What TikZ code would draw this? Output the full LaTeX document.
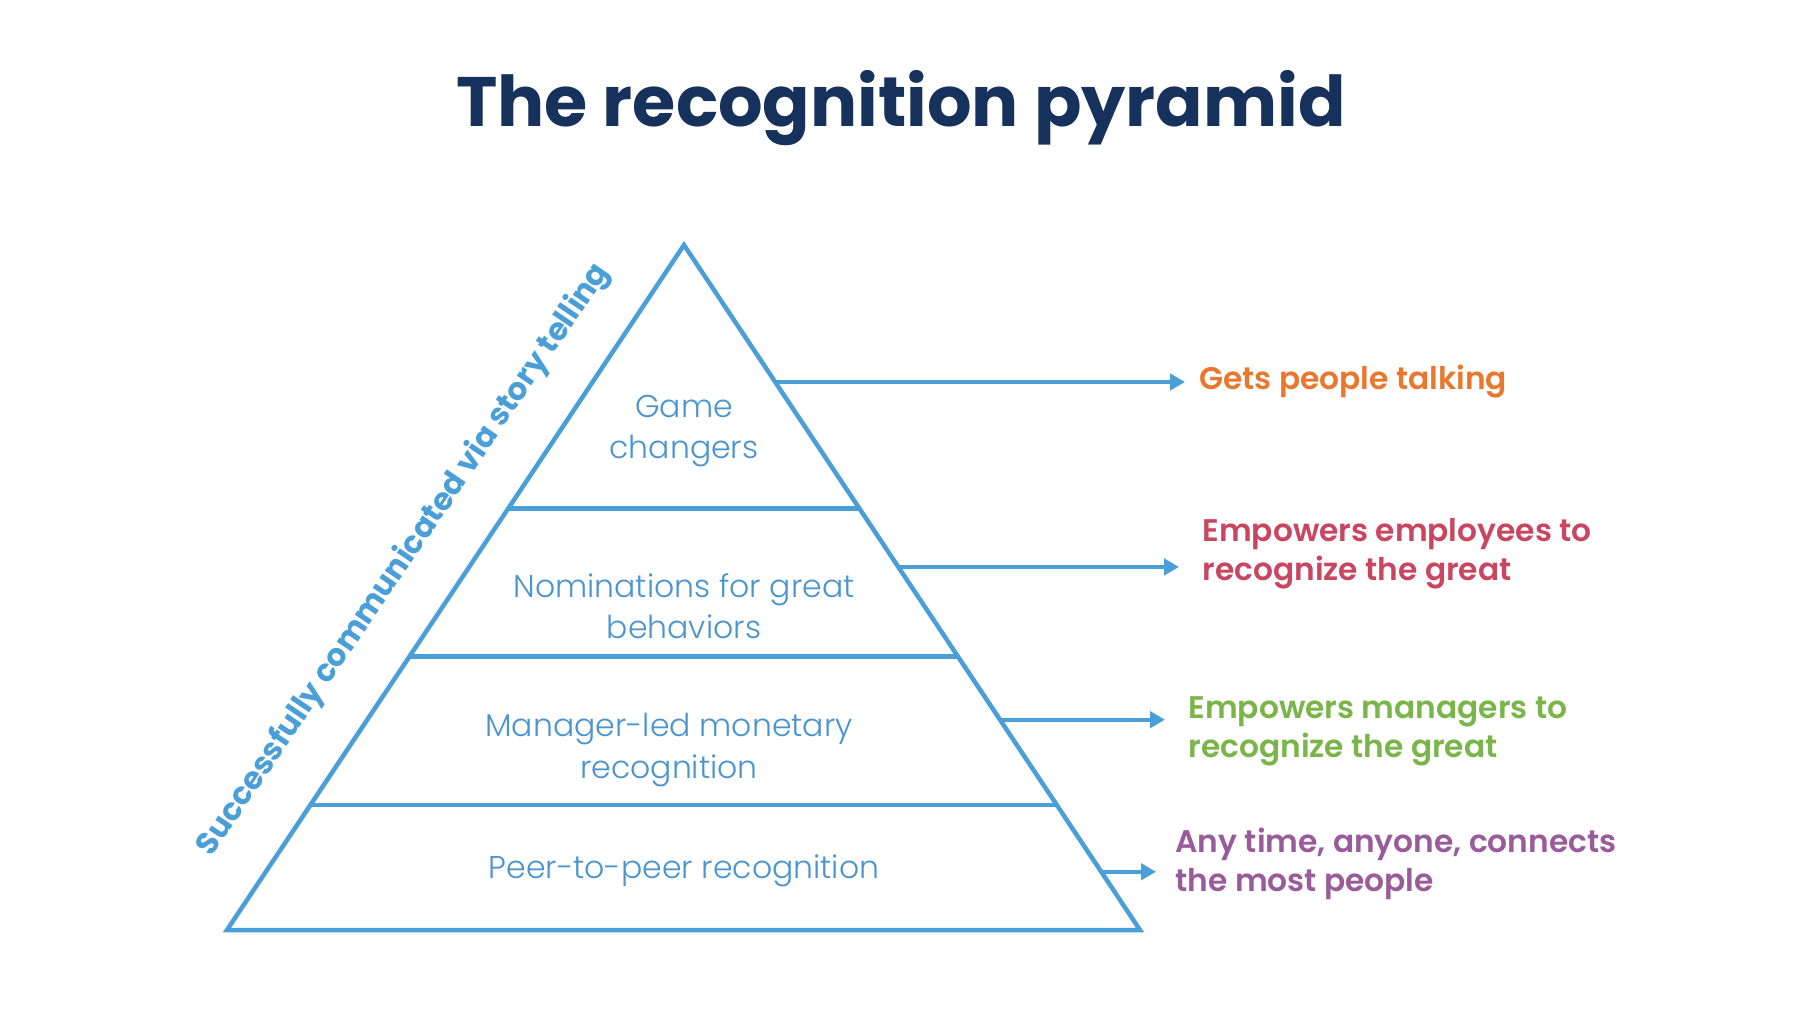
\documentclass[tikz,border=0pt]{standalone}
\usepackage{fontspec}
\setmainfont{Poppins}
\newfontfamily\lightf{Poppins Light}
\newfontfamily\semif{Poppins SemiBold}
\newfontfamily\boldf{Poppins Bold}
\usetikzlibrary{arrows.meta,calc}
\definecolor{navy}{HTML}{16325C}
\definecolor{pblue}{HTML}{4A9FD9}
\definecolor{tblue}{HTML}{4A94CF}
\definecolor{lorange}{HTML}{E9782F}
\definecolor{lred}{HTML}{C94660}
\definecolor{lgreen}{HTML}{7AB54A}
\definecolor{lpurple}{HTML}{9A5B9B}
\tikzset{
  pline/.style={draw=pblue, line width=1.8pt, line join=miter},
  parrow/.style={draw=pblue, line width=1.6pt, -{Triangle[length=6pt,width=6.5pt]}},
  tier/.style={text=tblue, font=\lightf\fontsize{12.6}{16.5}\selectfont, align=center, inner sep=0pt},
  side/.style={font=\semif\fontsize{12.5}{15.6}\selectfont, align=left, anchor=west, inner sep=0pt},
}
\begin{document}
\begin{tikzpicture}[x=0.4pt,y=-0.4pt]
\useasboundingbox[fill=white] (0,0) rectangle (1800,1012);
\node[font=\boldf\fontsize{28}{34}\selectfont, text=navy, anchor=base] (title) at (901,127) {The recognition pyramid};
% pyramid
\coordinate (apex) at (684,245);
\coordinate (bl) at (227,930);
\coordinate (br) at (1140,930);
\draw[pline] (apex) -- (br) -- (bl) -- cycle;
\foreach \t/\n in {0.385/a,0.601/b,0.8175/c}{
  \coordinate (L\n) at ($(apex)!\t!(bl)$);
  \coordinate (R\n) at ($(apex)!\t!(br)$);
  \draw[pline] (L\n) -- (R\n);
}
% tier labels
\node[tier] (t1) at (684,431) {Game\\changers};
\node[tier] (t2) at (684,606) {Nominations for great\\behaviors};
\node[tier] (t3) at (669,750) {Manager-led monetary\\recognition};
\node[tier] (t4) at (684,871) {Peer-to-peer recognition};
% side text
\node[text=pblue, font=\boldf\fontsize{12.4}{15}\selectfont, rotate=55.8, inner sep=0pt] (story) at (404,560) {Successfully communicated via story telling};
% arrows
\coordinate (s1) at ($(apex)!0.2!(br)$);
\coordinate (s2) at ($(apex)!0.470!(br)$);
\coordinate (s3) at ($(apex)!0.693!(br)$);
\coordinate (s4) at ($(apex)!0.915!(br)$);
\coordinate (e1) at (1185,382);
\coordinate (e2) at (1179,567);
\coordinate (e3) at (1165,720);
\coordinate (e4) at (1156,872);
\draw[parrow] (s1) -- (e1 |- s1);
\draw[parrow] (s2) -- (e2 |- s2);
\draw[parrow] (s3) -- (e3 |- s3);
\draw[parrow] (s4) -- (e4 |- s4);
% labels
\node[side, text=lorange] (l1) at (1199,382) {Gets people talking};
\node[side, text=lred] (l2) at (1202,554) {Empowers employees to\\recognize the great};
\node[side, text=lgreen] (l3) at (1188,731) {Empowers managers to\\recognize the great};
\node[side, text=lpurple] (l4) at (1175,864) {Any time, anyone, connects\\the most people};
\end{tikzpicture}
\end{document}
